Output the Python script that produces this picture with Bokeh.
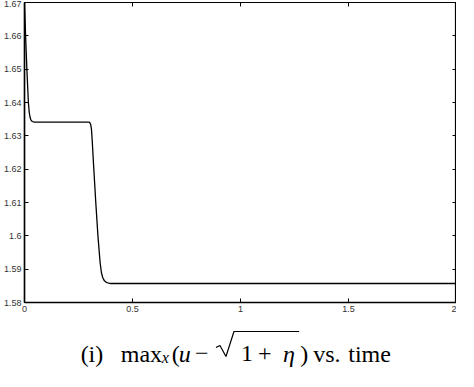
from bokeh.plotting import figure
from bokeh.models import Range1d, FixedTicker, LinearAxis, Label
from bokeh.layouts import column
from bokeh.embed import file_html
from bokeh.resources import INLINE

# ---- data ----
time = [0.0, 0.005, 0.011, 0.018, 0.022, 0.026, 0.030, 0.036, 0.045, 0.10, 0.20,
        0.300, 0.306, 0.310, 0.314, 0.320, 0.330, 0.340, 0.350, 0.356, 0.362,
        0.370, 0.380, 0.390, 0.400, 0.50, 1.00, 1.50, 2.00]
max_val = [1.6700, 1.6600, 1.6500, 1.6400, 1.6370, 1.6355, 1.6347, 1.6343, 1.6341,
           1.6341, 1.6341, 1.6341, 1.6335, 1.6320, 1.6280, 1.6210, 1.6100, 1.6000,
           1.5920, 1.5890, 1.5875, 1.5865, 1.5860, 1.5858, 1.5857, 1.5857, 1.5857,
           1.5857, 1.5857]
x_ticks = [0, 0.5, 1, 1.5, 2]
x_tick_labels = ["0", "0.5", "1", "1.5", "2"]
y_ticks = [1.58, 1.59, 1.60, 1.61, 1.62, 1.63, 1.64, 1.65, 1.66, 1.67]
y_tick_labels = ["1.58", "1.59", "1.6", "1.61", "1.62", "1.63", "1.64", "1.65", "1.66", "1.67"]

W = 456
MAIN_H = 314
CAP_H = 56

p = figure(width=W, height=MAIN_H, output_backend="svg", toolbar_location=None,
           x_range=Range1d(0, 2), y_range=Range1d(1.58, 1.67),
           min_border_left=0, min_border_right=0, min_border_top=2, min_border_bottom=0)
p.grid.visible = False
p.outline_line_color = "black"
p.outline_line_width = 1.2
p.background_fill_color = "white"
p.border_fill_color = "white"

p.line(time, max_val, line_color="black", line_width=1.3)

def style(ax, labels, show):
    ax.ticker = FixedTicker(ticks=labels[0])
    ax.major_label_overrides = {t: s for t, s in zip(labels[0], labels[1])}
    ax.minor_tick_line_color = None
    ax.major_tick_in = 4
    ax.major_tick_out = 0
    ax.axis_line_color = "black"
    ax.axis_line_width = 1.5
    ax.major_tick_line_color = "black"
    ax.major_tick_line_width = 1
    ax.major_label_text_font = "Liberation Sans"
    ax.major_label_text_font_size = "9px" if show else "1px"
    ax.major_label_text_color = "#333333" if show else None
    ax.major_label_standoff = 3 if show else 0

style(p.xaxis[0], (x_ticks, x_tick_labels), True)
style(p.yaxis[0], (y_ticks, y_tick_labels), True)
top = LinearAxis()
right = LinearAxis()
style(top, (x_ticks, x_tick_labels), False)
style(right, (y_ticks, y_tick_labels), False)
top.axis_line_width = 1
p.add_layout(top, "above")
p.add_layout(right, "right")

# ---- caption (its frame is aligned with the main frame; coordinates are page pixels) ----
page_top = 8 + MAIN_H
page_bottom = page_top + CAP_H
cap = figure(width=W, height=CAP_H, output_backend="svg", toolbar_location=None,
             x_range=Range1d(24, 455), y_range=Range1d(page_bottom, page_top),
             x_axis_type=None, y_axis_type=None, min_border=0)
cap.grid.visible = False
cap.outline_line_color = None

b = page_bottom - 17  # caption baseline
pieces = [
    ("(i)", 80, b, "24px", "normal"),
    ("max", 120, b, "24px", "normal"),
    ("x", 161, b + 4, "16px", "italic"),
    ("(", 171, b, "24px", "normal"),
    ("u", 178, b, "24px", "italic"),
    ("\u2212", 194, b, "24px", "normal"),
    ("1", 240, b, "24px", "normal"),
    ("+", 257, b, "24px", "normal"),
    ("\u03b7", 282, b, "24px", "italic"),
    (")", 299, b, "24px", "normal"),
    ("vs.", 312, b, "24px", "normal"),
    ("time", 347, b, "24px", "normal"),
]
for txt, px, py, fs, st in pieces:
    cap.add_layout(Label(x=px, y=py, text=txt, text_font="Liberation Serif",
                         text_font_size=fs, text_font_style=st, text_color="black",
                         text_baseline="alphabetic", text_align="left"))
# radical sign with its bar
cap.line(x=[215, 219, 225, 233, 298], y=[b - 6, b - 8, b + 3, b - 22, b - 22],
         line_color="black", line_width=1.2)

layout = column(p, cap)
open("out.html", "w").write(file_html(layout, INLINE))
